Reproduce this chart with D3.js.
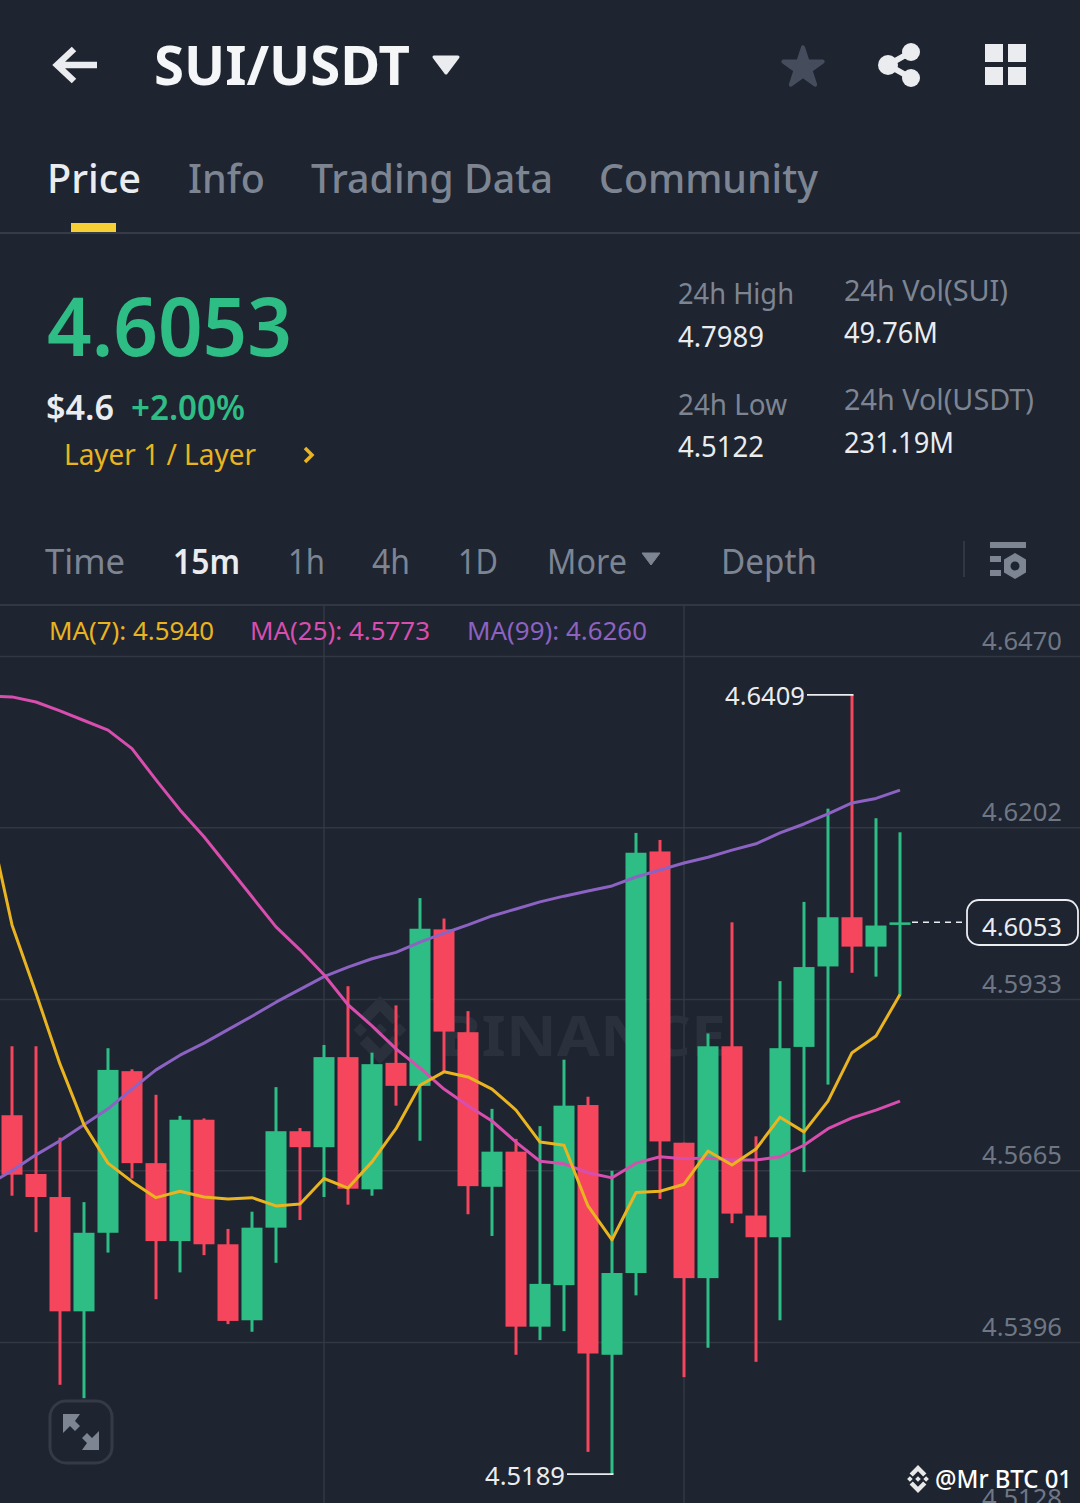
<!DOCTYPE html>
<html>
<head>
<meta charset="utf-8">
<script src="https://cdn.jsdelivr.net/npm/d3@7"></script>
<style>
  html, body { margin: 0; padding: 0; background: #1e2430; overflow: hidden; }
  svg { display: block; }
  text { font-family: "Noto Sans", sans-serif; }
</style>
</head>
<body>
<svg id="chart" width="1080" height="1503"></svg>
<script>
// candles
const opens  = [4.5751,4.5659,4.5623,4.5444,4.5567,4.5820,4.5676,4.5554,4.5744,4.5549,4.5430,4.5575,4.5726,4.5701,4.5842,4.5635,4.5833,4.5797,4.6042,4.5881,4.5639,4.5694,4.5420,4.5485,4.5767,4.5376,4.5504,4.6164,4.5708,4.5496,4.5859,4.5594,4.5560,4.5858,4.5984,4.6061,4.6015,4.6049];
const closes = [4.5658,4.5623,4.5444,4.5567,4.5822,4.5676,4.5554,4.5744,4.5549,4.5429,4.5575,4.5726,4.5701,4.5842,4.5636,4.5831,4.5797,4.6043,4.5882,4.5640,4.5694,4.5420,4.5487,4.5766,4.5378,4.5504,4.6162,4.5710,4.5496,4.5859,4.5597,4.5560,4.5856,4.5983,4.6061,4.6015,4.6048,4.6053];
const highs  = [4.5859,4.5859,4.5716,4.5615,4.5856,4.5823,4.5783,4.5750,4.5746,4.5573,4.5600,4.5795,4.5731,4.5861,4.5953,4.5849,4.5923,4.6091,4.6059,4.5914,4.5761,4.5714,4.5734,4.5838,4.5780,4.5664,4.6193,4.6182,4.5708,4.5879,4.6053,4.5718,4.5961,4.6085,4.6231,4.6409,4.6216,4.6194];
const lows   = [4.5625,4.5568,4.5329,4.5308,4.5536,4.5652,4.5463,4.5505,4.5532,4.5424,4.5412,4.5520,4.5587,4.5623,4.5611,4.5625,4.5766,4.5711,4.5818,4.5596,4.5562,4.5376,4.5399,4.5413,4.5224,4.5189,4.5469,4.5620,4.5341,4.5387,4.5582,4.5365,4.5430,4.5662,4.5799,4.5974,4.5968,4.5939];

// moving averages, first value belongs to the candle just off the left edge
const ma7  = [4.6221,4.6049,4.5942,4.5831,4.5736,4.5676,4.5647,4.5622,4.5632,4.5623,4.5620,4.5622,4.5609,4.5612,4.5652,4.5637,4.5678,4.5730,4.5798,4.5819,4.5811,4.5792,4.5759,4.5709,4.5704,4.5609,4.5556,4.5630,4.5632,4.5643,4.5695,4.5673,4.5698,4.5748,4.5725,4.5773,4.5849,4.5875,4.5940];
const ma25 = [4.6407,4.6406,4.6398,4.6384,4.6369,4.6354,4.6325,4.6276,4.6229,4.6187,4.6140,4.6093,4.6046,4.6010,4.5971,4.5924,4.5891,4.5855,4.5825,4.5792,4.5766,4.5742,4.5709,4.5679,4.5675,4.5661,4.5653,4.5676,4.5686,4.5683,4.5684,4.5681,4.5681,4.5686,4.5704,4.5730,4.5747,4.5759,4.5773];
const ma99 = [4.5642,4.5664,4.5689,4.5711,4.5736,4.5761,4.5792,4.5822,4.5845,4.5864,4.5885,4.5906,4.5928,4.5948,4.5968,4.5983,4.5996,4.6006,4.6022,4.6036,4.6049,4.6063,4.6074,4.6085,4.6094,4.6102,4.6110,4.6124,4.6135,4.6146,4.6155,4.6166,4.6176,4.6193,4.6207,4.6223,4.6240,4.6247,4.6260];

const priceTicks = [4.6470, 4.6202, 4.5933, 4.5665, 4.5396, 4.5128];
const lastPrice = 4.6053;

const BG = "#1e2430";
const GREEN = "#2ebd85";
const RED = "#f6465d";
const YELLOW = "#e9b41f";
const PINK = "#d84eae";
const PURPLE = "#8c62c2";
const GREY = "#7d8593";
const WHITE = "#eaecef";
const GRID = "#323843";

const svg = d3.select("#chart");

// scales
const x = d3.scaleLinear().domain([0, 37]).range([12, 900]);
const y = d3.scaleLinear().domain([4.5396, 4.6470]).range([1342, 656]);
const candleW = 21;

// text helper, w = target width in px
function label(parent, px, py, str, size, color, weight, w) {
    const t = parent.append("text")
        .attr("x", px).attr("y", py)
        .attr("font-size", size)
        .attr("fill", color)
        .attr("font-weight", weight || 400)
        .text(str);
    if (w) t.attr("textLength", w).attr("lengthAdjust", "spacingAndGlyphs");
    return t;
}

// header
const head = svg.append("g");
head.append("path").attr("d", "M97,65H58M74,49L57,65L74,81")
    .attr("fill", "none").attr("stroke", WHITE).attr("stroke-width", 6.5);
label(head, 154, 85, "SUI/USDT", 54, "#f5f6f7", 700, 256);
head.append("path").attr("d", "M434,57H458L446,73Z").attr("fill", WHITE).attr("stroke", WHITE).attr("stroke-width", 3).attr("stroke-linejoin", "round");

// star
head.append("path")
    .attr("d", d3.symbol().type(d3.symbolStar).size(480)())
    .attr("transform", "translate(803,68)")
    .attr("fill", "#454d5c").attr("stroke", "#454d5c").attr("stroke-width", 4).attr("stroke-linejoin", "round");
// share
head.append("path").attr("d", "M911,52L888,65L911,78").attr("fill", "none").attr("stroke", WHITE).attr("stroke-width", 6);
[[911, 52], [888, 65], [911, 78]].forEach(p => {
    head.append("circle").attr("cx", p[0]).attr("cy", p[1]).attr("r", p[0] === 888 ? 10 : 9).attr("fill", WHITE);
});
// grid icon
[[985, 44], [1008, 44], [985, 67], [1008, 67]].forEach(p => {
    head.append("rect").attr("x", p[0]).attr("y", p[1]).attr("width", 18).attr("height", 18).attr("fill", WHITE);
});

// tabs
const tabLabels = ["Price", "Info", "Trading Data", "Community"];
const tabX = [47, 188, 311, 599];
const tabW = [94, 77, 242, 219];
tabLabels.forEach((s, i) => label(head, tabX[i], 193, s, 39, i === 0 ? WHITE : GREY, 500, tabW[i]));
head.append("rect").attr("x", 71).attr("y", 223).attr("width", 45).attr("height", 9).attr("fill", "#f6cf35");
head.append("rect").attr("x", 0).attr("y", 232).attr("width", 1080).attr("height", 2).attr("fill", "#363c47");

// price block
label(head, 47, 356, "4.6053", 82, GREEN, 600, 245);
label(head, 46, 420, "$4.6", 34, WHITE, 600, 68);
label(head, 131, 420, "+2.00%", 34, GREEN, 600, 114);
label(head, 64, 465, "Layer 1 / Layer", 29, YELLOW, 400, 192);
head.append("path").attr("d", "M305,448L312,455L305,462").attr("fill", "none").attr("stroke", YELLOW).attr("stroke-width", 3.5);

// 24h stats
const statTitles = ["24h High", "24h Low", "24h Vol(SUI)", "24h Vol(USDT)"];
const statValues = ["4.7989", "4.5122", "49.76M", "231.19M"];
const statX = [678, 678, 844, 844];
const statTitleY = [304, 415, 301, 410];
const statValueY = [347, 457, 343, 453];
const statTitleW = [116, 109, 164, 190];
const statValueW = [86, 86, 94, 110];
statTitles.forEach((s, i) => {
    label(head, statX[i], statTitleY[i], s, 29, GREY, 400, statTitleW[i]);
    label(head, statX[i], statValueY[i], statValues[i], 29, WHITE, 400, statValueW[i]);
});

// interval row
const intervals = ["Time", "15m", "1h", "4h", "1D", "More", "Depth"];
const intervalX = [45, 173, 288, 372, 458, 547, 721];
const intervalW = [80, 67, 37, 38, 40, 80, 96];
intervals.forEach((s, i) => label(head, intervalX[i], 574, s, 35, i === 1 ? WHITE : GREY, i === 1 ? 600 : 400, intervalW[i]));
head.append("path").attr("d", "M642,553H660L651,565Z").attr("fill", GREY).attr("stroke", GREY).attr("stroke-linejoin", "round");
head.append("rect").attr("x", 963).attr("y", 541).attr("width", 2).attr("height", 36).attr("fill", "#323843");
head.append("rect").attr("x", 990).attr("y", 542).attr("width", 36).attr("height", 6).attr("fill", GREY);
head.append("rect").attr("x", 990).attr("y", 556).attr("width", 11).attr("height", 6).attr("fill", GREY);
head.append("rect").attr("x", 990).attr("y", 570).attr("width", 11).attr("height", 6).attr("fill", GREY);
// settings nut
head.append("path").attr("d", "M1015,553L1026,559.5V572.5L1015,579L1004,572.5V559.5Z").attr("fill", GREY);
head.append("circle").attr("cx", 1015).attr("cy", 566).attr("r", 4.5).attr("fill", BG);

// chart frame
const chart = svg.append("g");
chart.append("rect").attr("x", 0).attr("y", 604).attr("width", 1080).attr("height", 2).attr("fill", "#323843");
[324, 684].forEach(v => {
    chart.append("rect").attr("x", v - 0.75).attr("y", 606).attr("width", 1.5).attr("height", 897).attr("fill", GRID);
});

// price axis with full width grid lines
const axis = d3.axisLeft(y).tickValues(priceTicks).tickFormat(d3.format(".4f")).tickSize(1080);
const axisG = chart.append("g").attr("transform", "translate(1080,0)").call(axis);
axisG.select(".domain").remove();
axisG.selectAll(".tick line").attr("stroke", GRID).attr("stroke-width", 1.5);
axisG.selectAll(".tick text")
    .attr("x", -98).attr("y", -6.5)
    .attr("dy", 0)
    .attr("text-anchor", "start")
    .attr("font-size", 26)
    .attr("font-family", '"Noto Sans", sans-serif')
    .attr("fill", "#6f7785")
    .attr("textLength", 80).attr("lengthAdjust", "spacingAndGlyphs");

// watermark logo
function logo(parent, cx, cy, r, color) {
    const d = "M0,-.2L.2,0L0,.2L-.2,0ZM-.78,0L-.58,-.2L-.38,0L-.58,.2ZM.78,0L.58,-.2L.38,0L.58,.2Z" +
        "M0,-1L.6,-.4L.37,-.17L0,-.55L-.37,-.17L-.6,-.4ZM0,1L.6,.4L.37,.17L0,.55L-.37,.17L-.6,.4Z";
    parent.append("path").attr("d", d)
        .attr("transform", `translate(${cx},${cy}) scale(${r})`)
        .attr("fill", color);
}
logo(chart, 380, 1030, 34, "#2b313c");
label(chart, 440, 1056, "BINANCE", 56, "#2b313c", 700, 286);

// MA legend
const maLabels = ["MA(7): 4.5940", "MA(25): 4.5773", "MA(99): 4.6260"];
const maColors = [YELLOW, PINK, PURPLE];
const maX = [49, 250, 467];
const maW = [165, 180, 180];
maLabels.forEach((s, i) => label(chart, maX[i], 640, s, 26, maColors[i], 400, maW[i]));

// candles
const candles = opens.map((o, i) => ({ i: i, o: o, c: closes[i], h: highs[i], l: lows[i] }));
const color = d => d.c >= d.o ? GREEN : RED;

const marks = chart.append("g");
marks.selectAll("rect.wick").data(candles).join("rect")
    .attr("class", "wick")
    .attr("x", d => x(d.i) - 1.5)
    .attr("width", 3)
    .attr("y", d => y(d.h))
    .attr("height", d => y(d.l) - y(d.h))
    .attr("fill", color);
marks.selectAll("rect.body").data(candles).join("rect")
    .attr("class", "body")
    .attr("x", d => x(d.i) - candleW / 2)
    .attr("width", candleW)
    .attr("y", d => y(Math.max(d.o, d.c)))
    .attr("height", d => Math.max(2.5, Math.abs(y(d.o) - y(d.c))))
    .attr("fill", color);

// moving average lines
const maLine = d3.line().x((d, i) => x(i - 1)).y(d => y(d));
[[ma99, PURPLE], [ma25, PINK], [ma7, YELLOW]].forEach(m => {
    chart.append("path").attr("d", maLine(m[0]))
        .attr("fill", "none")
        .attr("stroke", m[1])
        .attr("stroke-width", 3)
        .attr("stroke-linejoin", "round");
});

// high and low callouts
const hiIdx = d3.maxIndex(highs);
const loIdx = d3.minIndex(lows);
chart.append("path")
    .attr("d", `M${x(hiIdx) + 1.5},${y(highs[hiIdx])}H${x(hiIdx) - 45}`)
    .attr("stroke", WHITE).attr("stroke-width", 1.8).attr("fill", "none");
label(chart, x(hiIdx) - 127, y(highs[hiIdx]) + 10, d3.format(".4f")(highs[hiIdx]), 26, WHITE, 400, 80);
chart.append("path")
    .attr("d", `M${x(loIdx) + 1.5},${y(lows[loIdx])}H${x(loIdx) - 45}`)
    .attr("stroke", WHITE).attr("stroke-width", 1.8).attr("fill", "none");
label(chart, x(loIdx) - 127, y(lows[loIdx]) + 11, d3.format(".4f")(lows[loIdx]), 26, WHITE, 400, 80);

// last price tag
chart.append("line")
    .attr("x1", 912).attr("x2", 966)
    .attr("y1", y(lastPrice)).attr("y2", y(lastPrice))
    .attr("stroke", WHITE).attr("stroke-width", 1.5).attr("stroke-dasharray", "6 5");
chart.append("rect")
    .attr("x", 967).attr("y", 900).attr("width", 111).attr("height", 45).attr("rx", 12)
    .attr("fill", BG).attr("stroke", WHITE).attr("stroke-width", 1.8);
label(chart, 982, 936, d3.format(".4f")(lastPrice), 26, WHITE, 400, 80);

// expand button
const btn = svg.append("g");
btn.append("rect").attr("x", 50).attr("y", 1401).attr("width", 62).attr("height", 62).attr("rx", 16)
    .attr("fill", BG).attr("stroke", "#343a46").attr("stroke-width", 3);
btn.append("path").attr("d", "M63,1414H80L75,1421L80,1426L75,1431L70,1426L63,1433Z").attr("fill", GREY);
btn.append("path").attr("d", "M99,1450H82L87,1443L82,1438L87,1433L92,1438L99,1431Z").attr("fill", GREY);

// author mark
logo(svg, 918, 1479, 14, "#e8e8e8");
label(svg, 935, 1488, "@Mr BTC 01", 26, "#ffffff", 500, 137);
</script>
</body>
</html>
